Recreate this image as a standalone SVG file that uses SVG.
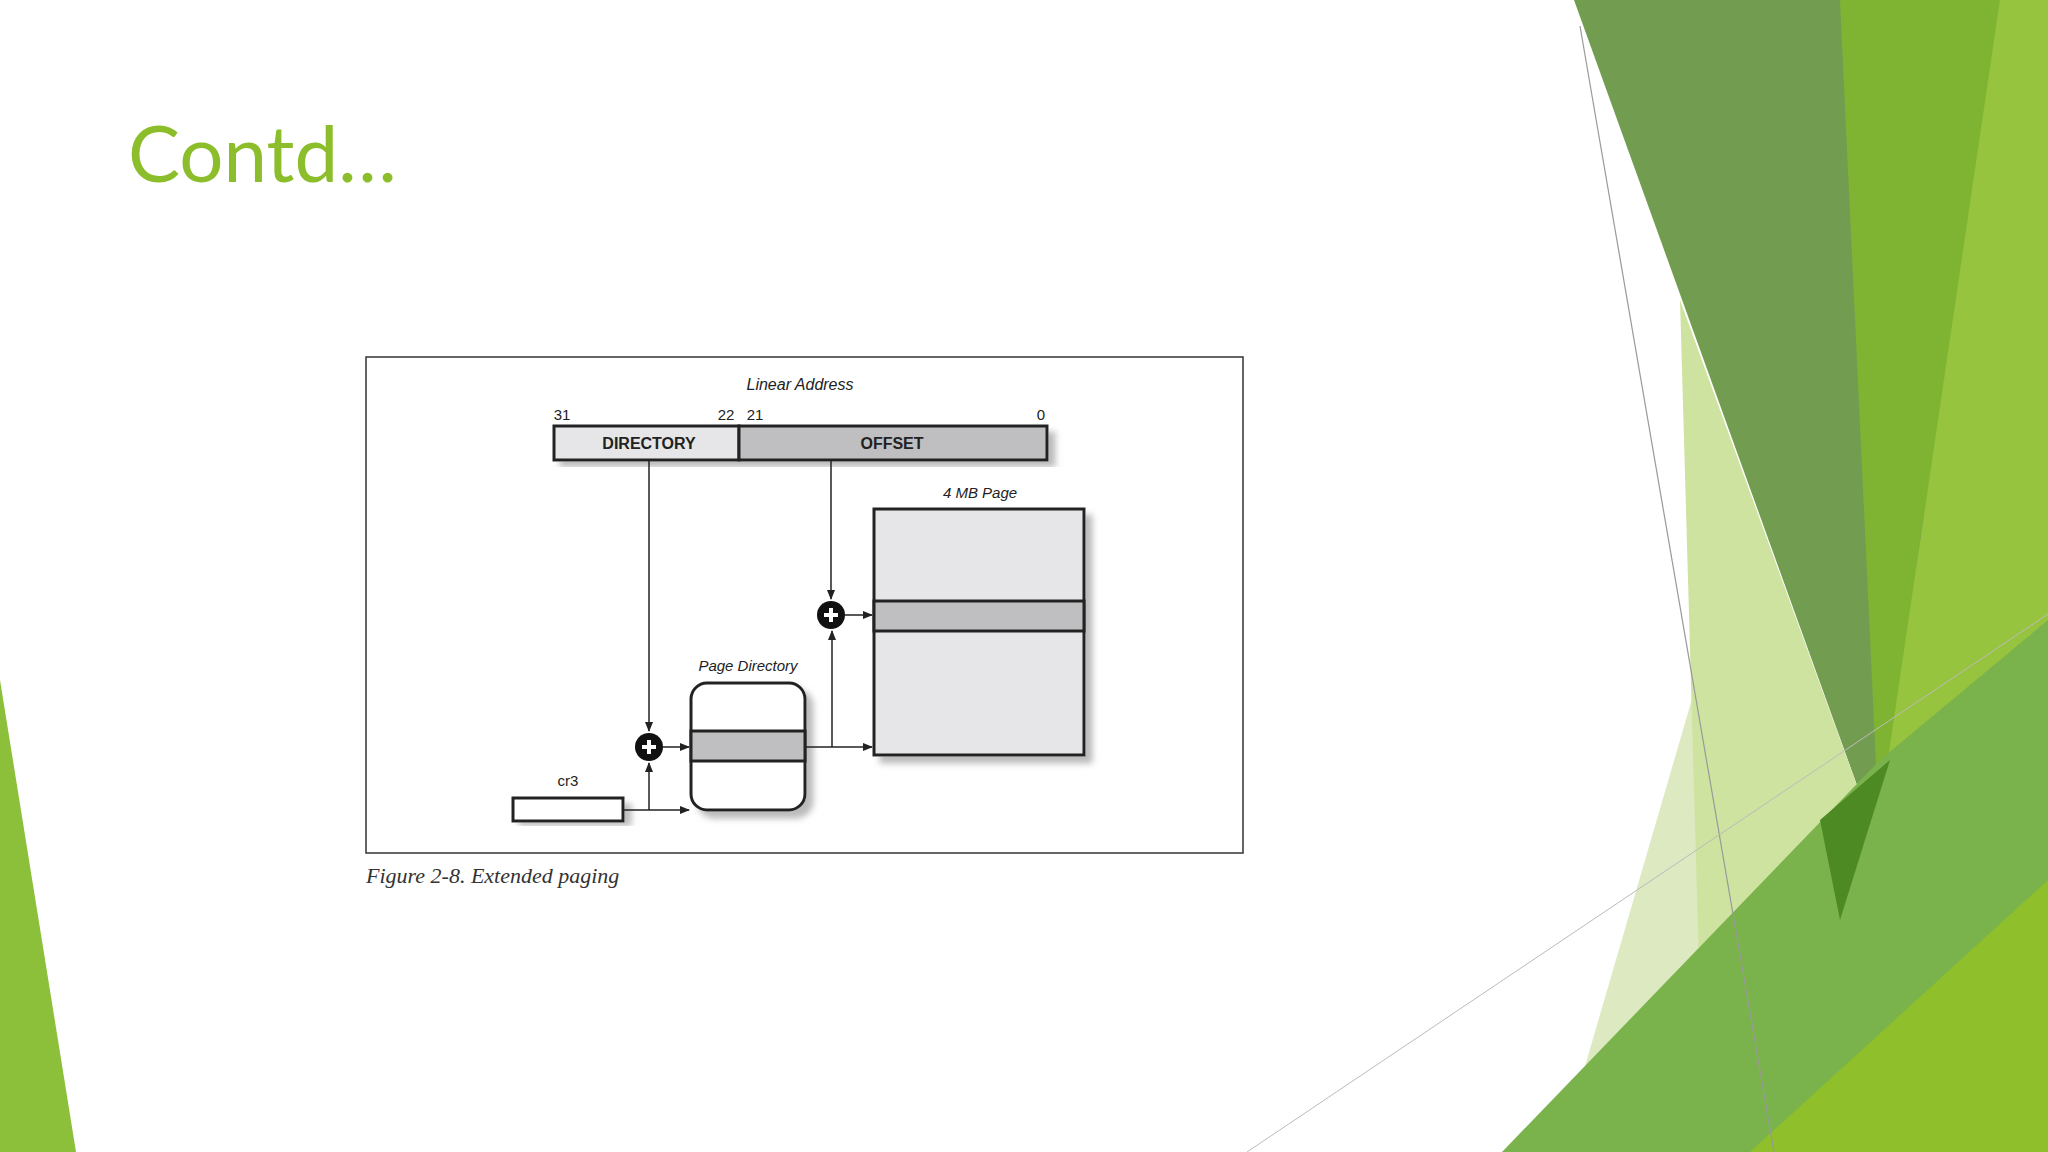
<svg xmlns="http://www.w3.org/2000/svg" width="2048" height="1152" viewBox="0 0 2048 1152">
<style>
.ln{stroke:#222;stroke-width:1.5;fill:none}
.bx{stroke:#222;stroke-width:3}
.cond{font-family:"Liberation Sans Narrow","Liberation Sans",sans-serif;fill:#222}
</style>
<defs>
<marker id="ah" markerWidth="10" markerHeight="8" refX="9" refY="4" orient="auto" markerUnits="userSpaceOnUse"><path d="M0,0 L10,4 L0,8 Z" fill="#222"/></marker>
<filter id="sh" x="-10%" y="-10%" width="130%" height="130%"><feOffset dx="7" dy="7"/><feGaussianBlur stdDeviation="3"/><feColorMatrix values="0 0 0 0 0.4 0 0 0 0 0.4 0 0 0 0 0.4 0 0 0 0.8 0"/><feMerge><feMergeNode/><feMergeNode in="SourceGraphic"/></feMerge></filter>
</defs>
<rect width="2048" height="1152" fill="#fff"/>
<g id="background">
<polygon points="1574,0 2000,0 1880,849" fill="#729d50"/>
<polygon points="1840,0 2005,0 1920,540 1880,849" fill="#7fb433"/>
<polygon points="1660,260 1880,849 1560,1152 1750,500" fill="#dde9c0"/>
<polygon points="1680,300 1880,849 1700,1000" fill="#cfe3a0"/>
<polygon points="2000,0 2048,0 2048,1152 1830,1152" fill="#97c43e"/>
<polygon points="1502,1152 1880,760 2048,620 2048,1152" fill="#7ab24c"/>
<polygon points="1820,820 1890,760 1840,920" fill="#4e8a24"/>
<polygon points="1750,1152 2048,880 2048,1152" fill="#8fbf2b"/>
<polygon points="0,680 0,1152 76,1152" fill="#8cbf3a"/>
<line x1="1580" y1="26" x2="1774" y2="1152" stroke="#999" stroke-width="1.2"/>
<line x1="1247" y1="1152" x2="2048" y2="614" stroke="#bbb" stroke-width="1"/>
</g>
<text x="128" y="182" font-family="Lato,'Liberation Sans',sans-serif" font-size="78" fill="#8cbd2a">Contd…</text>
<rect x="366" y="357" width="877" height="496" fill="#fff" stroke="#333" stroke-width="1.5"/>
<text x="366" y="883" font-family="'Liberation Serif',serif" font-style="italic" font-size="22" fill="#333">Figure 2-8. Extended paging</text>
<g id="linear-address">
<text class="cond" x="800" y="390" font-size="16" font-style="italic" text-anchor="middle">Linear Address</text>
<text class="cond" x="562" y="420" font-size="15" text-anchor="middle">31</text>
<text class="cond" x="726" y="420" font-size="15" text-anchor="middle">22</text>
<text class="cond" x="755" y="420" font-size="15" text-anchor="middle">21</text>
<text class="cond" x="1041" y="420" font-size="15" text-anchor="middle">0</text>
<g filter="url(#sh)">
<rect x="554" y="426" width="185" height="34" fill="#e6e6e8" class="bx"/>
<rect x="739" y="426" width="308" height="34" fill="#bfbfc1" class="bx"/>
</g>
<text class="cond" x="649" y="449" font-size="16" font-weight="bold" text-anchor="middle">DIRECTORY</text>
<text class="cond" x="892" y="449" font-size="16" font-weight="bold" text-anchor="middle">OFFSET</text>
</g>
<g id="page">
<text class="cond" x="980" y="498" font-size="15" font-style="italic" text-anchor="middle">4 MB Page</text>
<g filter="url(#sh)">
<rect x="874" y="509" width="210" height="246" fill="#e6e6e8" class="bx"/>
</g>
<rect x="874" y="601" width="210" height="30" fill="#bfbfc1" class="bx"/>
</g>
<g id="page-directory">
<text class="cond" x="748" y="671" font-size="15" font-style="italic" text-anchor="middle">Page Directory</text>
<g filter="url(#sh)">
<rect x="691" y="683" width="114" height="127" rx="16" fill="#fff" class="bx"/>
</g>
<rect x="691" y="731" width="114" height="30" fill="#bfbfc1" class="bx"/>
</g>
<g id="cr3">
<text class="cond" x="568" y="786" font-size="15" text-anchor="middle">cr3</text>
<rect x="513" y="798" width="110" height="23" fill="#fff" class="bx" filter="url(#sh)"/>
</g>
<g id="adders">
<circle cx="649" cy="747" r="14" fill="#111"/>
<path d="M642,747 H656 M649,740 V754" stroke="#fff" stroke-width="4"/>
<circle cx="831" cy="615" r="14" fill="#111"/>
<path d="M824,615 H838 M831,608 V622" stroke="#fff" stroke-width="4"/>
</g>
<g id="connectors">
<line class="ln" x1="649" y1="460" x2="649" y2="731" marker-end="url(#ah)"/>
<line class="ln" x1="831" y1="460" x2="831" y2="599" marker-end="url(#ah)"/>
<line class="ln" x1="623" y1="810" x2="689" y2="810" marker-end="url(#ah)"/>
<line class="ln" x1="649" y1="810" x2="649" y2="763" marker-end="url(#ah)"/>
<line class="ln" x1="663" y1="747" x2="689" y2="747" marker-end="url(#ah)"/>
<line class="ln" x1="805" y1="747" x2="872" y2="747" marker-end="url(#ah)"/>
<line class="ln" x1="832" y1="747" x2="832" y2="631" marker-end="url(#ah)"/>
<line class="ln" x1="845" y1="615" x2="872" y2="615" marker-end="url(#ah)"/>
</g>
</svg>
